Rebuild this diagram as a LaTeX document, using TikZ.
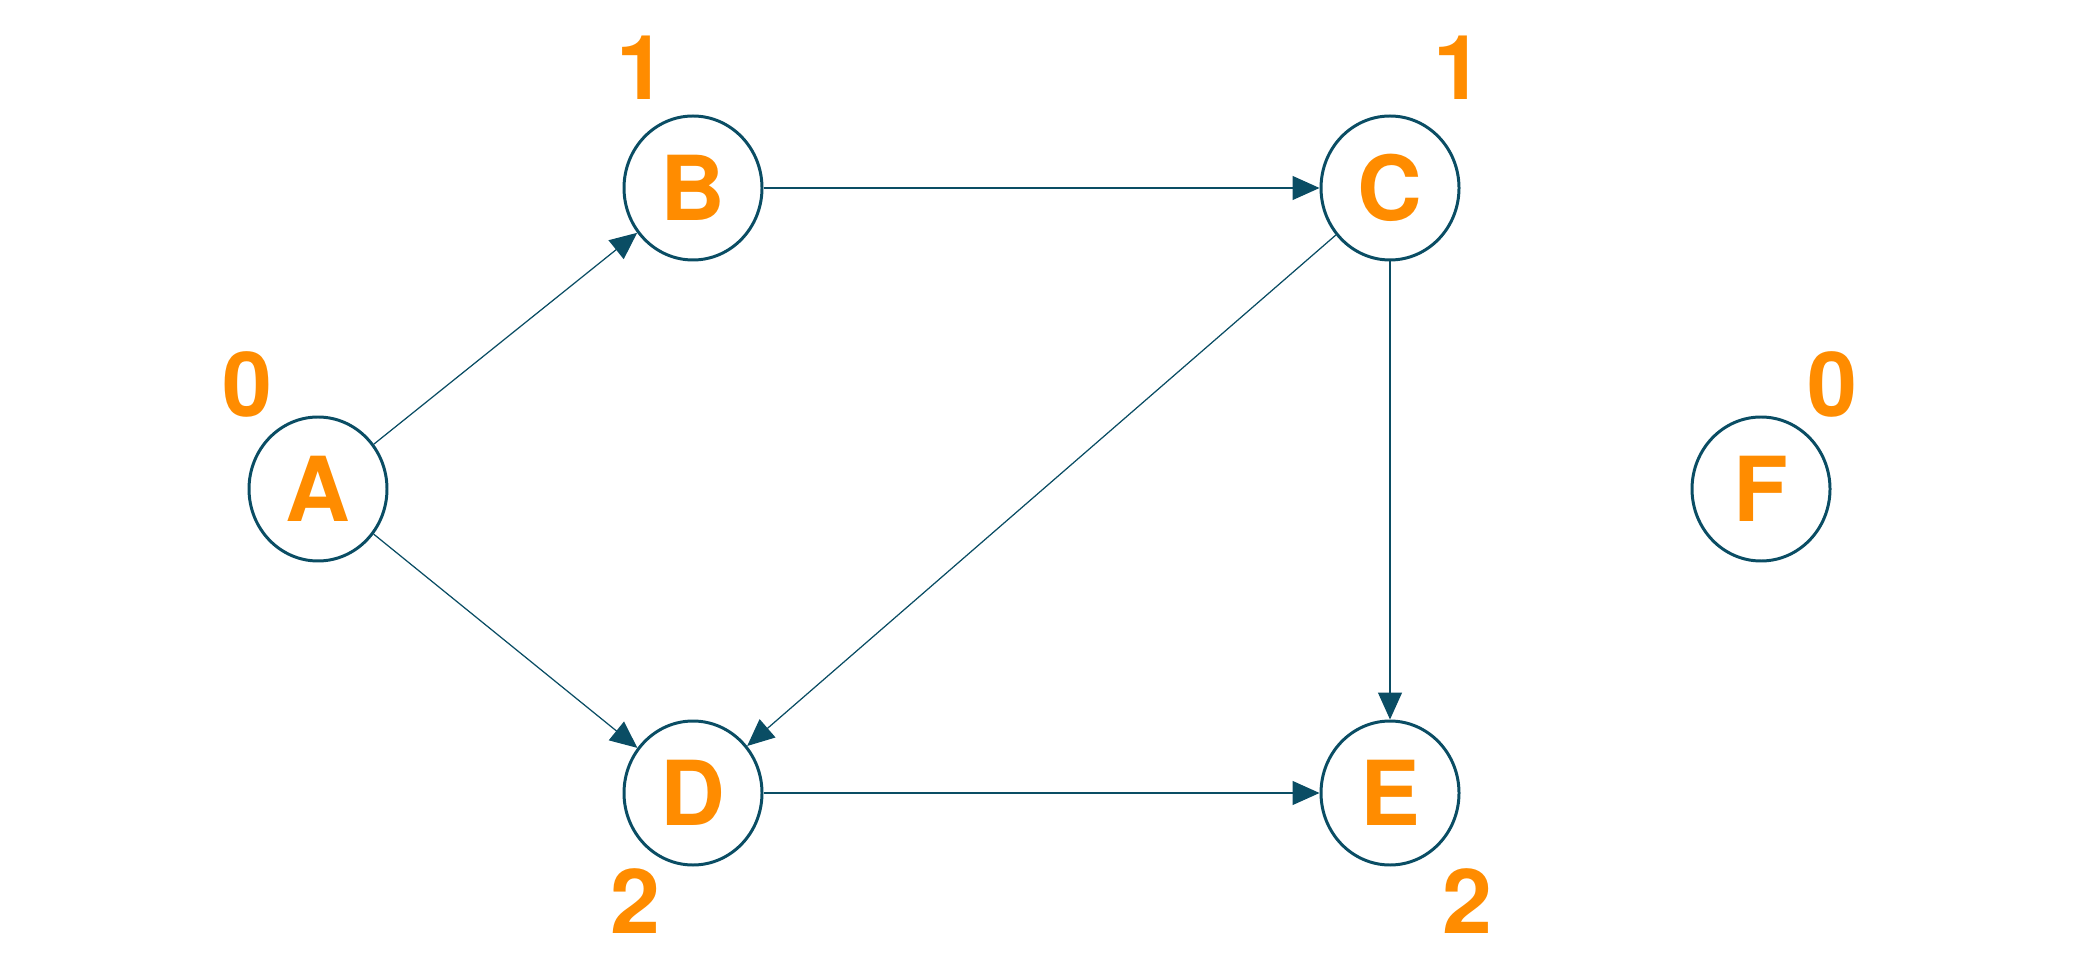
\documentclass[tikz,border=0pt]{standalone}
\usepackage{fontspec}
\setmainfont{TeX Gyre Heros}
\usetikzlibrary{arrows.meta,shapes.geometric}
\definecolor{vertexblue}{HTML}{0A4D64}
\definecolor{levelorange}{HTML}{FF8C00}

\begin{document}
\begin{tikzpicture}[
    vertex/.style={ellipse, draw=vertexblue, line width=0.85pt, minimum width=1.38cm, minimum height=1.44cm, inner sep=0pt, font=\fontsize{25.5}{30}\selectfont\bfseries, text=levelorange},
    levelnum/.style={font=\fontsize{25.5}{30}\selectfont\bfseries, text=levelorange, inner sep=0pt},
    link/.style={-{Triangle[length=2.7mm,width=2.4mm]}, draw=vertexblue, fill=vertexblue, line width=0.35pt}
]
        \useasboundingbox (0,0) rectangle (20.99,9.58);

        % Draw vertices
        \node[vertex] (A) at (3.18,4.69) {A};
        \node[vertex] (B) at (6.93,7.70) {B};
        \node[vertex] (C) at (13.90,7.70) {C};
        \node[vertex] (D) at (6.93,1.65) {D};
        \node[vertex] (E) at (13.90,1.65) {E};
        \node[vertex] (F) at (17.61,4.69) {F};

        % Draw edges
        \draw[link] (A) -- (B);
        \draw[link] (A) -- (D);
        \draw[link] (B) -- (C);
        \draw[link] (C) -- (D);
        \draw[link] (C) -- (E);
        \draw[link] (D) -- (E);

        % Add in-degree numbers
        \foreach \name/\x/\y/\n in {nA/2.47/5.74/0, nB/6.41/8.90/1, nC/14.58/8.90/1, nD/6.35/0.57/2, nE/14.67/0.57/2, nF/18.32/5.74/0} {
          \node[levelnum] (\name) at (\x,\y) {\n};
        }
    \end{tikzpicture}
\end{document}
